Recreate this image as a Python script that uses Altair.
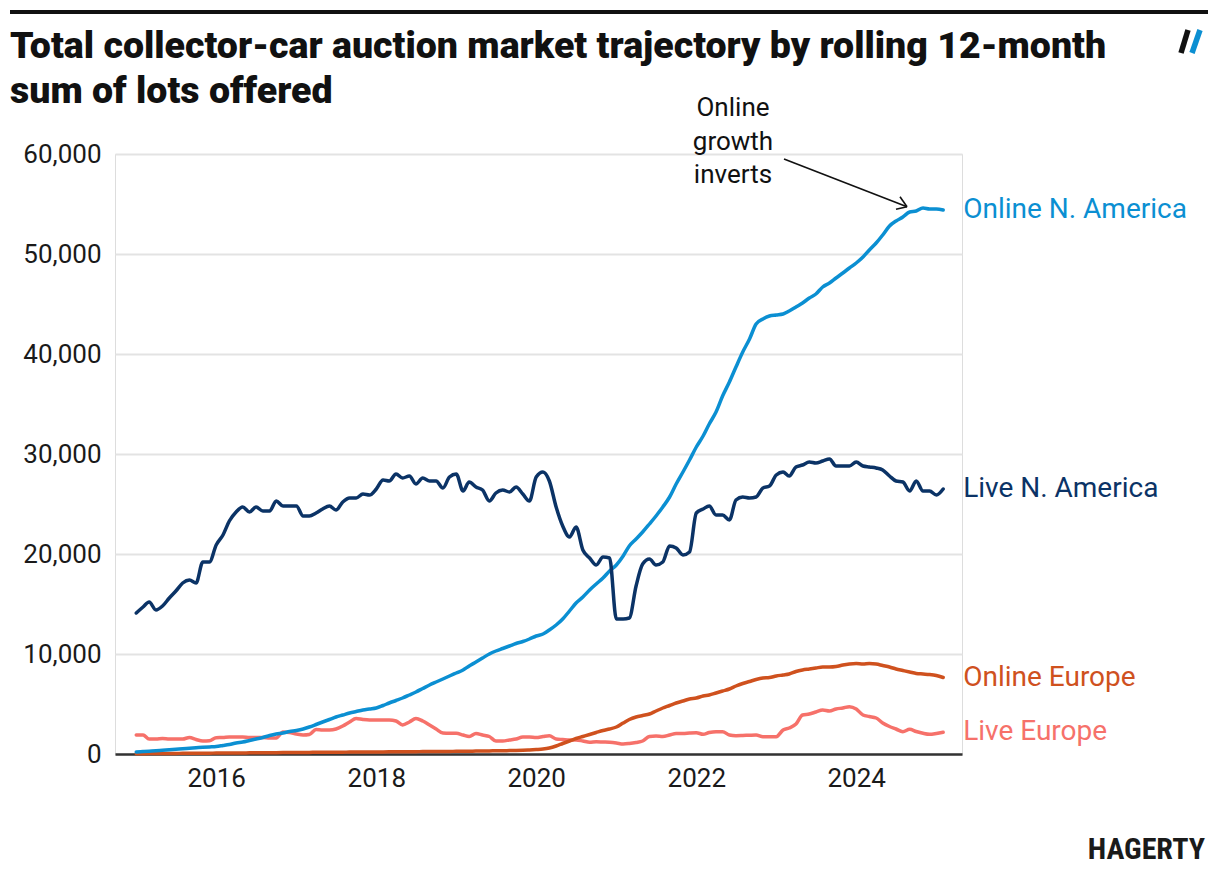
import altair as alt
import pandas as pd

# ---- data (monthly, Jan 2015 - Feb 2025) ----
start_month = "2015-01-01"
n_months = 122

live_na = [
    14100, 14700, 15200, 14400, 14800, 15600, 16300, 17100, 17400, 17100, 19200, 19200,
    20900, 21900, 23300, 24200, 24700, 24200, 24700, 24300, 24300, 25300, 24800, 24800,
    24800, 23800, 23800, 24100, 24500, 24800, 24400, 25200, 25600, 25600, 26000, 25900,
    26500, 27400, 27300, 28000, 27600, 27800, 27000, 27600, 27300, 27300, 26600, 27700,
    28000, 26300, 27200, 26700, 26400, 25300, 26100, 26400, 26200, 26700, 26000, 25300,
    27700, 28200, 27300, 24700, 22800, 21700, 22700, 20400, 19600, 18900, 19700, 19600,
    13500, 13500, 13600, 16800, 19000, 19500, 18900, 19200, 20800, 20600, 19900, 20200,
    24100, 24500, 24800, 23900, 23900, 23400, 25400, 25700, 25600, 25700, 26600, 26800,
    27900, 28200, 27800, 28700, 28900, 29200, 29100, 29300, 29500, 28800, 28800, 28800,
    29200, 28800, 28700, 28600, 28400, 27800, 27300, 27200, 26300, 27300, 26300, 26300,
    25900, 26500,
]
online_na = [
    200, 240, 280, 320, 370, 420, 470, 520, 570, 620, 670, 710,
    750, 850, 950, 1100, 1200, 1350, 1500, 1650, 1850, 2000, 2100, 2250,
    2350, 2500, 2700, 2950, 3200, 3450, 3700, 3900, 4100, 4250, 4400, 4500,
    4600, 4850, 5100, 5350, 5600, 5900, 6200, 6550, 6900, 7200, 7500, 7800,
    8100, 8400, 8800, 9200, 9600, 10000, 10300, 10550, 10800, 11050, 11250, 11500,
    11800, 12000, 12400, 12900, 13500, 14300, 15100, 15700, 16400, 17000, 17600, 18300,
    18900, 19800, 20800, 21500, 22200, 23000, 23800, 24700, 25700, 27000, 28200, 29400,
    30700, 31800, 33000, 34200, 35800, 37200, 38700, 40200, 41500, 43000, 43500, 43800,
    43900, 44000, 44300, 44700, 45100, 45600, 46000, 46700, 47100, 47600, 48100, 48600,
    49100, 49700, 50400, 51100, 51900, 52800, 53300, 53700, 54200, 54300, 54600, 54500,
    54500, 54400,
]
online_eu = [
    30, 35, 40, 45, 50, 55, 60, 65, 70, 75, 80, 85,
    90, 95, 100, 105, 110, 115, 120, 125, 130, 135, 140, 145,
    150, 155, 160, 165, 170, 175, 180, 185, 190, 195, 200, 200,
    205, 210, 215, 220, 225, 230, 235, 240, 245, 250, 255, 260,
    265, 270, 280, 290, 300, 310, 320, 330, 340, 360, 380, 410,
    450, 500, 600, 800, 1050, 1300, 1550, 1750, 1950, 2150, 2350, 2500,
    2700, 3100, 3450, 3700, 3850, 4000, 4300, 4600, 4850, 5100, 5300, 5500,
    5600, 5800, 5900, 6100, 6300, 6500, 6800, 7050, 7250, 7450, 7600, 7650,
    7800, 7900, 8000, 8250, 8400, 8500, 8600, 8700, 8700, 8750, 8900, 9000,
    9050, 9000, 9050, 9000, 8850, 8700, 8500, 8350, 8200, 8050, 8000, 7950,
    7850, 7650,
]
live_eu = [
    1900, 1900, 1500, 1500, 1550, 1500, 1500, 1500, 1650, 1450, 1300, 1330,
    1630, 1650, 1700, 1700, 1700, 1650, 1650, 1650, 1600, 1600, 2200, 2150,
    2000, 1900, 1950, 2450, 2400, 2400, 2500, 2800, 3200, 3550, 3450, 3400,
    3400, 3400, 3400, 3300, 2900, 3200, 3550, 3300, 2900, 2500, 2100, 2070,
    2070, 1900, 1750, 2050, 1900, 1750, 1300, 1300, 1400, 1500, 1700, 1700,
    1650, 1750, 1830, 1500, 1450, 1400, 1400, 1300, 1170, 1230, 1200, 1170,
    1100, 1000, 1050, 1150, 1300, 1750, 1800, 1750, 1900, 2050, 2050, 2100,
    2130, 1970, 2150, 2230, 2230, 1900, 1830, 1850, 1880, 1900, 1730, 1730,
    1730, 2400, 2600, 3000, 3900, 4000, 4200, 4400, 4300, 4500, 4600, 4730,
    4500, 3900, 3750, 3600, 3100, 2750, 2500, 2230, 2470, 2250, 2070, 1970,
    2050, 2170,
]

series_names = ["Live Europe", "Online Europe", "Online N. America", "Live N. America"]
series_values = [live_eu, online_eu, online_na, live_na]
series_colors = ["#f6716a", "#cf511e", "#0b8fd2", "#0b3366"]

y_ticks = [0, 10000, 20000, 30000, 40000, 50000, 60000]
x_tick_years = [2016, 2018, 2020, 2022, 2024]

title_lines = ["Total collector-car auction market trajectory by rolling 12-month",
               "sum of lots offered"]
annotation_text = "Online\ngrowth\ninverts"
brand = "HAGERTY"

FONT = "Roboto"
TITLE_FONT = "Roboto"

months = pd.date_range(start_month, periods=n_months, freq="MS")
rows = []
for name, vals in zip(series_names, series_values):
    for d, v in zip(months, vals):
        rows.append({"date": d, "value": v, "series": name})
df = pd.DataFrame(rows)
last = df.groupby("series", sort=False).tail(1)

x_enc = alt.X(
    "date:T",
    title=None,
    scale=alt.Scale(domain=[alt.DateTime(year=2014, month=9, date=26),
                            alt.DateTime(year=2025, month=4, date=28)]),
    axis=alt.Axis(
        values=[alt.DateTime(year=y, month=1, date=1) for y in x_tick_years],
        format="%Y", grid=False, ticks=False, domain=True,
        domainColor="#333333", domainWidth=2.5,
        labelFont=FONT, labelFontSize=26, labelColor="#1a1a1a",
        labelPadding=11, labelFlush=False,
    ),
)
y_enc = alt.Y(
    "value:Q",
    title=None,
    scale=alt.Scale(domain=[0, 60000], nice=False),
    axis=alt.Axis(
        values=y_ticks, format=",d", grid=True, gridColor="#e3e3e3", gridWidth=2,
        ticks=False, domain=False,
        labelFont=FONT, labelFontSize=26, labelColor="#1a1a1a", labelPadding=14,
    ),
)
color_scale = alt.Scale(domain=series_names, range=series_colors)

layers = []
for name in series_names:
    layers.append(
        alt.Chart(df[df["series"] == name]).mark_line(
            strokeWidth=3.5, interpolate="monotone", strokeJoin="round", strokeCap="round"
        ).encode(
            x=x_enc, y=y_enc,
            color=alt.Color("series:N", scale=color_scale, legend=None),
        )
    )

end_labels = alt.Chart(last).mark_text(
    align="left", baseline="middle", dx=20, font=FONT, fontSize=28
).encode(
    x="date:T", y="value:Q", text="series:N",
    color=alt.Color("series:N", scale=color_scale, legend=None),
)

one = pd.DataFrame({"k": [0]})

top_rule = alt.Chart(one).mark_rule(color="#111111", strokeWidth=4).encode(
    x=alt.value(-105), x2=alt.value(1093), y=alt.value(-142), y2=alt.value(-142)
)
title = alt.Chart(one).mark_text(
    align="left", baseline="alphabetic", font=TITLE_FONT, fontSize=37.5,
    fontWeight=900, color="#111111", lineHeight=44.5,
).encode(x=alt.value(-105), y=alt.value(-96), text=alt.value(title_lines))

logo_black = alt.Chart(one).mark_rule(color="#111111", strokeWidth=5.5, strokeCap="butt").encode(
    x=alt.value(1066), x2=alt.value(1073), y=alt.value(-101), y2=alt.value(-124)
)
logo_blue = alt.Chart(one).mark_rule(color="#0b8fd2", strokeWidth=5.5, strokeCap="butt").encode(
    x=alt.value(1077), x2=alt.value(1085), y=alt.value(-101), y2=alt.value(-124)
)

annot = alt.Chart(one).mark_text(
    align="center", baseline="alphabetic", font=FONT, fontSize=26,
    color="#111111", lineHeight=33.5, lineBreak="\n",
).encode(x=alt.value(618), y=alt.value(-38), text=alt.value(annotation_text))

arrow_line = alt.Chart(one).mark_rule(color="#111111", strokeWidth=1.6).encode(
    x=alt.value(669), x2=alt.value(792), y=alt.value(5), y2=alt.value(52.7)
)
barb1 = alt.Chart(one).mark_rule(color="#111111", strokeWidth=1.6).encode(
    x=alt.value(785), x2=alt.value(792), y=alt.value(42.7), y2=alt.value(52.7)
)
barb2 = alt.Chart(one).mark_rule(color="#111111", strokeWidth=1.6).encode(
    x=alt.value(781), x2=alt.value(792), y=alt.value(55.3), y2=alt.value(52.7)
)

brand_text = alt.Chart(one).mark_text(
    align="right", baseline="alphabetic", font="Roboto Condensed, Roboto", fontSize=30,
    fontWeight="bold", color="#1a1a1a",
).encode(x=alt.value(1090), y=alt.value(705), text=alt.value(brand))

chart = alt.layer(
    *layers, end_labels, top_rule, title, logo_black, logo_blue,
    annot, arrow_line, barb1, barb2, brand_text,
).properties(
    width=847, height=600,
    padding={"left": 107, "top": 146, "right": 250, "bottom": 114},
    autosize=alt.AutoSizeParams(type="none"),
).configure_view(stroke=None).configure(background="white")

chart.save("out.html", embed_options={"renderer": "svg", "actions": False})
